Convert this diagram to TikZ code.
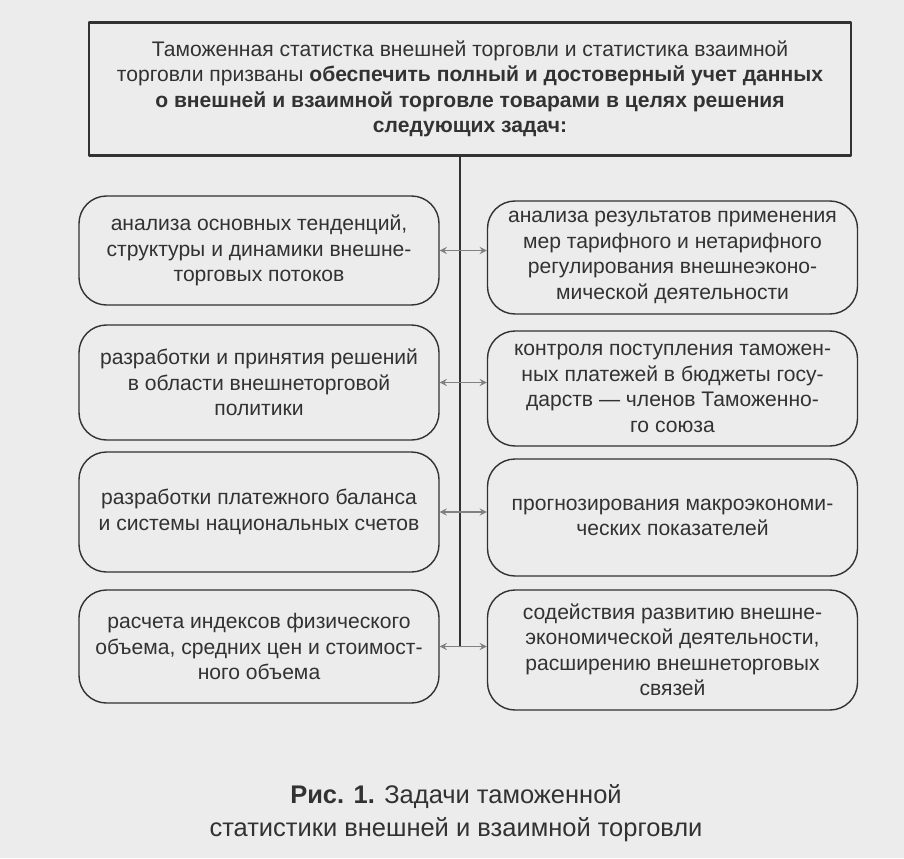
\documentclass[tikz,border=0pt]{standalone}
\usepackage{fontspec}
\setmainfont{Liberation Sans}
\definecolor{bumaga}{RGB}{236,236,236}
\definecolor{chernila}{RGB}{50,50,50}
\begin{document}
\begin{tikzpicture}[font=\fontsize{12}{14.5}\selectfont, line join=round, line cap=round, >=stealth, color=chernila,
    zad/.style={draw=chernila, line width=0.8pt, rounded corners=0.55cm, align=center, inner sep=2pt, minimum width=#1}]
    \fill[bumaga] (0,0) rectangle (18.08,17.16);
    \useasboundingbox (0,0) rectangle (18.08,17.16);
    \def\xl{5.18} \def\xr{13.45} % центры колонок
    \def\wl{7.2cm} \def\wr{7.4cm} % ширина блоков
    \node[draw, line width=1.3pt, minimum width=15.24cm, minimum height=2.66cm, align=center, fill=bumaga] (glav) at (9.4,15.38)
        {Таможенная статистка внешней торговли и статистика взаимной\\
        торговли призваны \textbf{обеспечить полный и достоверный учет данных}\\
        \textbf{о внешней и взаимной торговле товарами в целях решения}\\
        \textbf{следующих задач:}};
    % левая колонка
    \node[zad=\wl, minimum height=2.18cm] (L1) at (\xl,12.15) {анализа основных тенденций,\\ структуры и динамики внешне-\\торговых потоков};
    \node[zad=\wl, minimum height=2.3cm] (L2) at (\xl,9.51) {разработки и принятия решений\\ в области внешнеторговой\\ политики};
    \node[zad=\wl, minimum height=2.4cm] (L3) at (\xl,6.92) {разработки платежного баланса\\ и системы национальных счетов};
    \node[zad=\wl, minimum height=2.26cm] (L4) at (\xl,4.23) {расчета индексов физического\\ объема, средних цен и стоимост-\\ного объема};
    % правая колонка
    \node[zad=\wr, minimum height=2.26cm] (R1) at (\xr,12.01) {анализа результатов применения\\ мер тарифного и нетарифного\\ регулирования внешнеэконо-\\мической деятельности};
    \node[zad=\wr, minimum height=2.3cm] (R2) at (\xr,9.39) {контроля поступления таможен-\\ных платежей в бюджеты госу-\\дарств — членов Таможенно-\\го союза};
    \node[zad=\wr, minimum height=2.34cm] (R3) at (\xr,6.81) {прогнозирования макроэкономи-\\ческих показателей};
    \node[zad=\wr, minimum height=2.4cm] (R4) at (\xr,4.16) {содействия развитию внешне-\\экономической деятельности,\\ расширению внешнеторговых\\ связей};
    \coordinate (stvol) at (9.2,0);
    \draw[line width=0.8pt] (glav.south -| stvol) -- (L4.east -| stvol);
    \foreach \i in {1,...,4} \draw[<->, gray, line width=0.8pt] (L\i.east) -- (L\i.east -| R\i.west);
    \node[font=\fontsize{14.5}{18.5}\selectfont, align=center] (podpis) at (9.12,0.9)
        {\textbf{Рис. 1.} Задачи таможенной\\ статистики внешней и взаимной торговли};
\end{tikzpicture}
\end{document}
